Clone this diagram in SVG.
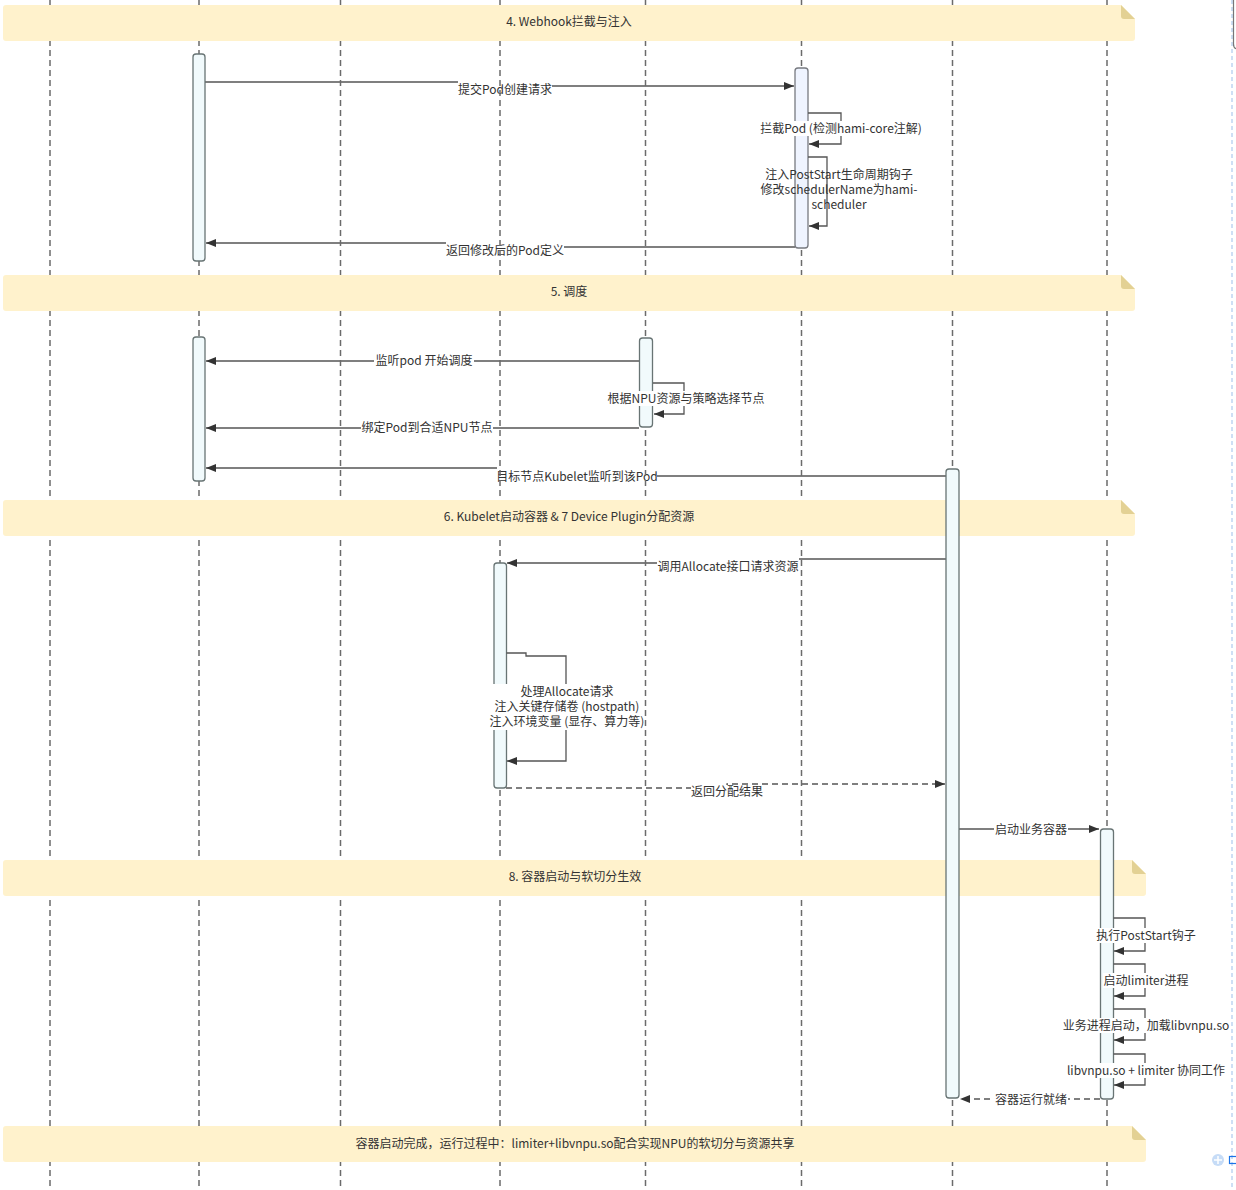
<svg xmlns="http://www.w3.org/2000/svg" width="1236" height="1190" viewBox="0 0 1236 1190">
<style>
.ll{stroke:#6b6b6b;stroke-width:1.5;stroke-dasharray:6 4;fill:none}
.band{fill:#FFF2CC}
.fold{fill:#E3D194}
.act{fill:#F1FAFC;stroke:#687474;stroke-width:1.3}
.act2{fill:#EFF4FF;stroke:#777a80;stroke-width:1.3}
.msg{stroke:#555;stroke-width:1.3;fill:none;marker-end:url(#arr)}
.dash{stroke-dasharray:6 4}
.bg{fill:#fff}
.t{font-family:"Noto Sans CJK SC","Noto Sans",sans-serif;font-size:12px;fill:#333;text-anchor:middle}
</style>
<defs>
<marker id="arr" markerUnits="userSpaceOnUse" markerWidth="11" markerHeight="8" refX="10" refY="4" orient="auto">
<path d="M0,0 L10,4 L0,8 Z" fill="#333"/>
</marker>
</defs>
<rect width="1236" height="1190" fill="#fff"/>

<g id="messages">
<path class="msg" d="M205,82 H505 V86 H794"/>
<rect class="bg" x="458" y="81" width="94" height="16"/>
<text class="t" x="505" y="94">提交Pod创建请求</text>
<path class="msg" d="M795,247 H505 V243 H206"/>
<rect class="bg" x="446" y="242" width="118" height="16"/>
<text class="t" x="505" y="255">返回修改后的Pod定义</text>
<path class="msg" d="M639,361 H206"/>
<rect class="bg" x="374" y="353" width="100" height="15"/>
<text class="t" x="424" y="365">监听pod 开始调度</text>
<path class="msg" d="M639,428 H206"/>
<rect class="bg" x="361" y="420" width="132" height="15"/>
<text class="t" x="427" y="432">绑定Pod到合适NPU节点</text>
<path class="msg" d="M946,476 H577 V468 H206"/>
<rect class="bg" x="497" y="467" width="160" height="17"/>
<text class="t" x="577" y="481">目标节点Kubelet监听到该Pod</text>
<path class="msg" d="M946,559 H728 V563 H507"/>
<rect class="bg" x="657" y="558" width="142" height="16"/>
<text class="t" x="728" y="571">调用Allocate接口请求资源</text>
<path class="msg dash" d="M506,788 H727 V784 H945"/>
<rect class="bg" x="691" y="785" width="73" height="14"/>
<text class="t" x="727" y="796">返回分配结果</text>
<path class="msg" d="M959,829 H1099"/>
<rect class="bg" x="994" y="822" width="74" height="15"/>
<text class="t" x="1031" y="834">启动业务容器</text>
<path class="msg dash" d="M1100,1099 H960"/>
<rect class="bg" x="994" y="1092" width="74" height="15"/>
<text class="t" x="1031" y="1104">容器运行就绪</text>
</g>

<g id="lifelines">
<line class="ll" x1="50" y1="0" x2="50" y2="1190"/>
<line class="ll" x1="199" y1="0" x2="199" y2="1190"/>
<line class="ll" x1="340.5" y1="0" x2="340.5" y2="1190"/>
<line class="ll" x1="500" y1="0" x2="500" y2="1190"/>
<line class="ll" x1="645.5" y1="0" x2="645.5" y2="1190"/>
<line class="ll" x1="801.5" y1="0" x2="801.5" y2="1190"/>
<line class="ll" x1="952.5" y1="0" x2="952.5" y2="1190"/>
<line class="ll" x1="1107" y1="0" x2="1107" y2="1190"/>
</g>

<g id="banner-4">
<path class="band" d="M6,5 H1121 L1135,19 V38 Q1135,41 1132,41 H6 Q3,41 3,38 V8 Q3,5 6,5 Z"/>
<path class="fold" d="M1121,5 V16 Q1121,19 1124,19 H1135 Z"/>
<text class="t" x="569" y="26">4. Webhook拦截与注入</text>
</g>
<g id="banner-5">
<path class="band" d="M6,275 H1121 L1135,289 V308 Q1135,311 1132,311 H6 Q3,311 3,308 V278 Q3,275 6,275 Z"/>
<path class="fold" d="M1121,275 V286 Q1121,289 1124,289 H1135 Z"/>
<text class="t" x="569" y="296">5. 调度</text>
</g>
<g id="banner-6-7">
<path class="band" d="M6,500 H1121 L1135,514 V533 Q1135,536 1132,536 H6 Q3,536 3,533 V503 Q3,500 6,500 Z"/>
<path class="fold" d="M1121,500 V511 Q1121,514 1124,514 H1135 Z"/>
<text class="t" x="569" y="521">6. Kubelet启动容器 &amp; 7 Device Plugin分配资源</text>
</g>
<g id="banner-8">
<path class="band" d="M6,860 H1132 L1146,874 V893 Q1146,896 1143,896 H6 Q3,896 3,893 V863 Q3,860 6,860 Z"/>
<path class="fold" d="M1132,860 V871 Q1132,874 1135,874 H1146 Z"/>
<text class="t" x="575" y="881">8. 容器启动与软切分生效</text>
</g>
<g id="banner-end">
<path class="band" d="M6,1126 H1132 L1146,1140 V1159 Q1146,1162 1143,1162 H6 Q3,1162 3,1159 V1129 Q3,1126 6,1126 Z"/>
<path class="fold" d="M1132,1126 V1137 Q1132,1140 1135,1140 H1146 Z"/>
<text class="t" x="575" y="1148">容器启动完成，运行过程中：limiter+libvnpu.so配合实现NPU的软切分与资源共享</text>
</g>

<g id="activations">
<rect id="act-1" class="act" x="193" y="54" width="12" height="207" rx="3"/>
<rect id="act-2" class="act2" x="795" y="68" width="13" height="180" rx="3"/>
<rect id="act-3" class="act" x="193" y="337" width="12" height="144" rx="3"/>
<rect id="act-4" class="act" x="639.5" y="338" width="13" height="89" rx="3"/>
<rect id="act-5" class="act" x="946" y="469" width="13" height="629" rx="3"/>
<rect id="act-6" class="act" x="494" y="563" width="12.5" height="225" rx="3"/>
<rect id="act-7" class="act" x="1100.5" y="829" width="13" height="270" rx="3"/>
</g>

<g id="self-calls">
<path class="msg" d="M808,113 H841 V144 H809"/>
<rect class="bg" x="760" y="121" width="162" height="15"/>
<text class="t" x="841" y="133">拦截Pod (检测hami-core注解)</text>
<path class="msg" d="M808,157 H827 V226 H809"/>
<text class="t" x="839" y="179">注入PostStart生命周期钩子</text>
<text class="t" x="839" y="194">修改schedulerName为hami-</text>
<text class="t" x="839" y="209">scheduler</text>
<path class="msg" d="M653,383 H684 V414 H654"/>
<rect class="bg" x="608" y="391" width="156" height="15"/>
<text class="t" x="686" y="403">根据NPU资源与策略选择节点</text>
<path class="msg" d="M506.5,653 H526 V656 H566 V761 H507"/>
<rect class="bg" x="490" y="684" width="154" height="46"/>
<text class="t" x="567" y="696">处理Allocate请求</text>
<text class="t" x="567" y="711">注入关键存储卷 (hostpath)</text>
<text class="t" x="567" y="726">注入环境变量 (显存、算力等)</text>
<path class="msg" d="M1113.5,918 H1145 V951 H1114"/>
<rect class="bg" x="1097" y="928" width="99" height="15"/>
<text class="t" x="1146" y="940">执行PostStart钩子</text>
<path class="msg" d="M1113.5,964 H1145 V996 H1114"/>
<rect class="bg" x="1103" y="973" width="86" height="15"/>
<text class="t" x="1146" y="985">启动limiter进程</text>
<path class="msg" d="M1113.5,1009 H1145 V1040 H1114"/>
<rect class="bg" x="1064" y="1018" width="164" height="15"/>
<text class="t" x="1146" y="1030">业务进程启动，加载libvnpu.so</text>
<path class="msg" d="M1113.5,1054 H1145 V1085 H1114"/>
<rect class="bg" x="1066" y="1063" width="161" height="15"/>
<text class="t" x="1146" y="1075">libvnpu.so + limiter 协同工作</text>
</g>

<g id="ui-artifacts">
<line x1="1232" y1="0" x2="1232" y2="1190" stroke="#9DBFEA" stroke-width="1" stroke-dasharray="4 3"/>
<path d="M1233.5,0 V44 Q1233.5,49 1238,49" fill="none" stroke="#777" stroke-width="1.2"/>
<circle cx="1218" cy="1160" r="6" fill="#C6DCF7"/>
<path d="M1214,1160 H1222 M1218,1156 V1164" stroke="#fff" stroke-width="1.5"/>
<rect x="1229.5" y="1156.5" width="10" height="7" fill="none" stroke="#1A73E8" stroke-width="1.2"/>
</g>
</svg>
